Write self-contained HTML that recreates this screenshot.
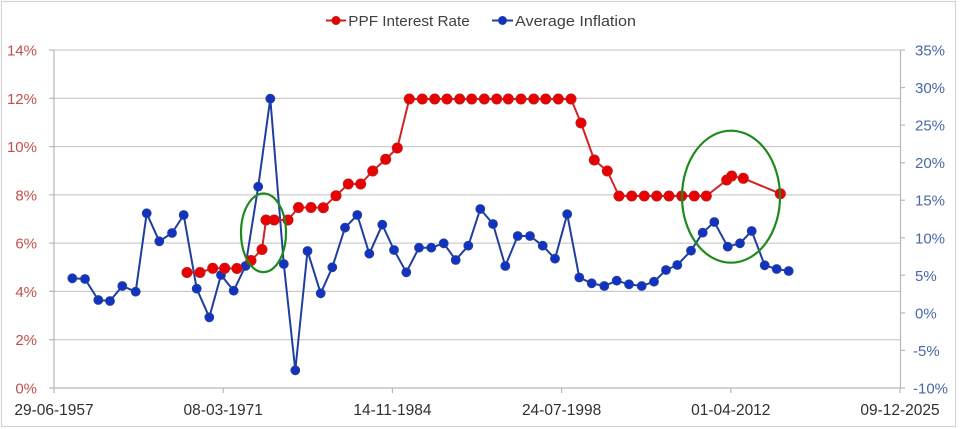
<!DOCTYPE html>
<html>
<head>
<meta charset="utf-8">
<style>
  html, body { margin: 0; padding: 0; background: #ffffff; }
  body { width: 960px; height: 429px; overflow: hidden; }
  svg { display: block; }
  text { font-family: "Liberation Sans", "DejaVu Sans", sans-serif; }
</style>
</head>
<body>
<svg width="960" height="429" viewBox="0 0 960 429" xmlns="http://www.w3.org/2000/svg">
  <rect x="0" y="0" width="960" height="429" fill="#ffffff"/>
  <!-- outer frame -->
  <rect x="1.5" y="1.5" width="954" height="425" fill="none" stroke="#d4d4d4" stroke-width="1.2"/>

  <!-- gridlines (left axis, every 2%) -->
  <g stroke="#c0c0c0" stroke-width="1">
    <line x1="54" y1="50" x2="900" y2="50"/>
    <line x1="54" y1="98.3" x2="900" y2="98.3"/>
    <line x1="54" y1="146.6" x2="900" y2="146.6"/>
    <line x1="54" y1="194.9" x2="900" y2="194.9"/>
    <line x1="54" y1="243.1" x2="900" y2="243.1"/>
    <line x1="54" y1="291.4" x2="900" y2="291.4"/>
    <line x1="54" y1="339.7" x2="900" y2="339.7"/>
  </g>

  <!-- axes -->
  <g stroke="#b8b8b8" stroke-width="1.2" fill="none">
    <line x1="54" y1="50" x2="54" y2="388"/>
    <line x1="54" y1="388" x2="900.5" y2="388"/>
    <line x1="900.5" y1="50" x2="900.5" y2="388"/>
    <!-- left ticks -->
    <line x1="49" y1="50" x2="54" y2="50"/>
    <line x1="49" y1="98.3" x2="54" y2="98.3"/>
    <line x1="49" y1="146.6" x2="54" y2="146.6"/>
    <line x1="49" y1="194.9" x2="54" y2="194.9"/>
    <line x1="49" y1="243.1" x2="54" y2="243.1"/>
    <line x1="49" y1="291.4" x2="54" y2="291.4"/>
    <line x1="49" y1="339.7" x2="54" y2="339.7"/>
    <line x1="49" y1="388" x2="54" y2="388"/>
    <!-- bottom ticks -->
    <line x1="54" y1="388" x2="54" y2="393"/>
    <line x1="223.2" y1="388" x2="223.2" y2="393"/>
    <line x1="392.4" y1="388" x2="392.4" y2="393"/>
    <line x1="561.6" y1="388" x2="561.6" y2="393"/>
    <line x1="730.8" y1="388" x2="730.8" y2="393"/>
    <line x1="900" y1="388" x2="900" y2="393"/>
    <!-- right ticks -->
    <line x1="900.5" y1="50" x2="905" y2="50"/>
    <line x1="900.5" y1="87.6" x2="905" y2="87.6"/>
    <line x1="900.5" y1="125.1" x2="905" y2="125.1"/>
    <line x1="900.5" y1="162.7" x2="905" y2="162.7"/>
    <line x1="900.5" y1="200.2" x2="905" y2="200.2"/>
    <line x1="900.5" y1="237.8" x2="905" y2="237.8"/>
    <line x1="900.5" y1="275.3" x2="905" y2="275.3"/>
    <line x1="900.5" y1="312.9" x2="905" y2="312.9"/>
    <line x1="900.5" y1="350.4" x2="905" y2="350.4"/>
    <line x1="900.5" y1="388" x2="905" y2="388"/>
  </g>

  <!-- left axis labels -->
  <g fill="#c0504d" font-size="15" text-anchor="end">
    <text x="37" y="55.5">14%</text>
    <text x="37" y="103.8">12%</text>
    <text x="37" y="152.1">10%</text>
    <text x="37" y="200.4">8%</text>
    <text x="37" y="248.6">6%</text>
    <text x="37" y="296.9">4%</text>
    <text x="37" y="345.2">2%</text>
    <text x="37" y="393.5">0%</text>
  </g>

  <!-- right axis labels -->
  <g fill="#4a68a6" font-size="15" text-anchor="start">
    <text x="915" y="55.5">35%</text>
    <text x="915" y="93.1">30%</text>
    <text x="915" y="130.6">25%</text>
    <text x="915" y="168.2">20%</text>
    <text x="915" y="205.7">15%</text>
    <text x="915" y="243.3">10%</text>
    <text x="915" y="280.8">5%</text>
    <text x="915" y="318.4">0%</text>
    <text x="913" y="355.9">-5%</text>
    <text x="913" y="393.5">-10%</text>
  </g>

  <!-- x axis labels -->
  <g fill="#303030" font-size="15.5" text-anchor="middle">
    <text x="54" y="415">29-06-1957</text>
    <text x="223.2" y="415">08-03-1971</text>
    <text x="392.4" y="415">14-11-1984</text>
    <text x="561.6" y="415">24-07-1998</text>
    <text x="730.8" y="415">01-04-2012</text>
    <text x="900" y="415">09-12-2025</text>
  </g>

  <!-- legend -->
  <g>
    <line x1="326" y1="20.5" x2="346" y2="20.5" stroke="#d02020" stroke-width="2"/>
    <circle cx="336" cy="20.5" r="4" fill="#e80000" stroke="#c01010" stroke-width="1"/>
    <text x="348.3" y="26" font-size="15" fill="#404040" textLength="121.5" lengthAdjust="spacingAndGlyphs">PPF Interest Rate</text>
    <line x1="492" y1="20.5" x2="513" y2="20.5" stroke="#2040a0" stroke-width="2"/>
    <circle cx="502.5" cy="20.5" r="4" fill="#1030c0" stroke="#2040a0" stroke-width="1"/>
    <text x="515" y="26" font-size="15" fill="#404040" textLength="121" lengthAdjust="spacingAndGlyphs">Average Inflation</text>
  </g>

  <!-- Average Inflation (blue) -->
  <polyline fill="none" stroke="#1f3f9f" stroke-width="2" stroke-linejoin="round"
    points="72.3,278.3 85,279 98.3,300 110,301 122.3,286 135.7,291.7 146.7,213.3 159.3,241.3 172,233 183.7,215 196.7,288.7 209.3,317.3 221,275 233.7,290.7 245.5,266 258.2,186.7 270.3,98.7 283.8,264 295.3,370.3 307.5,251 320.7,293.3 332.3,267.3 345,227.7 357.3,215 369.3,253.7 382.3,224.7 394,250 406.3,272.3 419,247.7 431.3,247.7 443.7,243.3 455.7,260 468.3,245.7 480.3,209 493,224 505.3,266 517.7,236 530,236 542.7,245.7 555,258.7 567.2,214.2 579.3,277.5 591.7,283.3 604.3,286 616.7,280.7 629,284.3 641.7,286 654,281.7 666,270 677.3,265 691,250.7 702.7,232.7 714.3,222 727.7,246.7 740,243.3 751.7,231 764.7,265.3 776.7,269 788.7,271"/>

  <!-- PPF Interest Rate (red) line -->
  <polyline fill="none" stroke="#d02424" stroke-width="2" stroke-linejoin="round"
    points="187,272.5 200,272.5 212.7,268.3 224.7,268.3 236.9,268.5 251,260.5 262,249.5 266,220 274.2,220 288,220 298.5,207.5 311,207.5 323.3,207.7 336,195.7 348.3,184 360.7,184 372.7,171 385.7,159.3 397.3,148 409.3,99 422.3,99 434.7,99 447,99 459.7,99 471.7,99 484.3,99 496.7,99 508.3,99 521,99 533.7,99 545.7,99 558.3,99 571,99 581,123 594.3,160 607.3,171 619,196 631.7,196 644.3,196 656.7,196 669,196 681.7,196 694.3,196 706.3,196 726.7,180 731.7,176 743.3,178.3 780.3,193.7"/>

  <!-- blue markers -->
  <g fill="#1232c2" stroke="#23409e" stroke-width="1">
    <circle cx="72.3" cy="278.3" r="4.4"/><circle cx="85" cy="279" r="4.4"/><circle cx="98.3" cy="300" r="4.4"/><circle cx="110" cy="301" r="4.4"/><circle cx="122.3" cy="286" r="4.4"/><circle cx="135.7" cy="291.7" r="4.4"/><circle cx="146.7" cy="213.3" r="4.4"/><circle cx="159.3" cy="241.3" r="4.4"/><circle cx="172" cy="233" r="4.4"/><circle cx="183.7" cy="215" r="4.4"/><circle cx="196.7" cy="288.7" r="4.4"/><circle cx="209.3" cy="317.3" r="4.4"/><circle cx="221" cy="275" r="4.4"/><circle cx="233.7" cy="290.7" r="4.4"/><circle cx="245.5" cy="266" r="4.4"/><circle cx="258.2" cy="186.7" r="4.4"/><circle cx="270.3" cy="98.7" r="4.4"/><circle cx="283.8" cy="264" r="4.4"/><circle cx="295.3" cy="370.3" r="4.4"/><circle cx="307.5" cy="251" r="4.4"/><circle cx="320.7" cy="293.3" r="4.4"/><circle cx="332.3" cy="267.3" r="4.4"/><circle cx="345" cy="227.7" r="4.4"/><circle cx="357.3" cy="215" r="4.4"/><circle cx="369.3" cy="253.7" r="4.4"/><circle cx="382.3" cy="224.7" r="4.4"/><circle cx="394" cy="250" r="4.4"/><circle cx="406.3" cy="272.3" r="4.4"/><circle cx="419" cy="247.7" r="4.4"/><circle cx="431.3" cy="247.7" r="4.4"/><circle cx="443.7" cy="243.3" r="4.4"/><circle cx="455.7" cy="260" r="4.4"/><circle cx="468.3" cy="245.7" r="4.4"/><circle cx="480.3" cy="209" r="4.4"/><circle cx="493" cy="224" r="4.4"/><circle cx="505.3" cy="266" r="4.4"/><circle cx="517.7" cy="236" r="4.4"/><circle cx="530" cy="236" r="4.4"/><circle cx="542.7" cy="245.7" r="4.4"/><circle cx="555" cy="258.7" r="4.4"/><circle cx="567.2" cy="214.2" r="4.4"/><circle cx="579.3" cy="277.5" r="4.4"/><circle cx="591.7" cy="283.3" r="4.4"/><circle cx="604.3" cy="286" r="4.4"/><circle cx="616.7" cy="280.7" r="4.4"/><circle cx="629" cy="284.3" r="4.4"/><circle cx="641.7" cy="286" r="4.4"/><circle cx="654" cy="281.7" r="4.4"/><circle cx="666" cy="270" r="4.4"/><circle cx="677.3" cy="265" r="4.4"/><circle cx="691" cy="250.7" r="4.4"/><circle cx="702.7" cy="232.7" r="4.4"/><circle cx="714.3" cy="222" r="4.4"/><circle cx="727.7" cy="246.7" r="4.4"/><circle cx="740" cy="243.3" r="4.4"/><circle cx="751.7" cy="231" r="4.4"/><circle cx="764.7" cy="265.3" r="4.4"/><circle cx="776.7" cy="269" r="4.4"/><circle cx="788.7" cy="271" r="4.4"/>
  </g>

  <!-- red markers -->
  <g fill="#ea0000" stroke="#c81818" stroke-width="1">
    <circle cx="187" cy="272.5" r="5"/><circle cx="200" cy="272.5" r="5"/><circle cx="212.7" cy="268.3" r="5"/><circle cx="224.7" cy="268.3" r="5"/><circle cx="236.9" cy="268.5" r="5"/><circle cx="251" cy="260.5" r="5"/><circle cx="262" cy="249.5" r="5"/><circle cx="266" cy="220" r="5"/><circle cx="274.2" cy="220" r="5"/><circle cx="288" cy="220" r="5"/><circle cx="298.5" cy="207.5" r="5"/><circle cx="311" cy="207.5" r="5"/><circle cx="323.3" cy="207.7" r="5"/><circle cx="336" cy="195.7" r="5"/><circle cx="348.3" cy="184" r="5"/><circle cx="360.7" cy="184" r="5"/><circle cx="372.7" cy="171" r="5"/><circle cx="385.7" cy="159.3" r="5"/><circle cx="397.3" cy="148" r="5"/><circle cx="409.3" cy="99" r="5"/><circle cx="422.3" cy="99" r="5"/><circle cx="434.7" cy="99" r="5"/><circle cx="447" cy="99" r="5"/><circle cx="459.7" cy="99" r="5"/><circle cx="471.7" cy="99" r="5"/><circle cx="484.3" cy="99" r="5"/><circle cx="496.7" cy="99" r="5"/><circle cx="508.3" cy="99" r="5"/><circle cx="521" cy="99" r="5"/><circle cx="533.7" cy="99" r="5"/><circle cx="545.7" cy="99" r="5"/><circle cx="558.3" cy="99" r="5"/><circle cx="571" cy="99" r="5"/><circle cx="581" cy="123" r="5"/><circle cx="594.3" cy="160" r="5"/><circle cx="607.3" cy="171" r="5"/><circle cx="619" cy="196" r="5"/><circle cx="631.7" cy="196" r="5"/><circle cx="644.3" cy="196" r="5"/><circle cx="656.7" cy="196" r="5"/><circle cx="669" cy="196" r="5"/><circle cx="681.7" cy="196" r="5"/><circle cx="694.3" cy="196" r="5"/><circle cx="706.3" cy="196" r="5"/><circle cx="726.7" cy="180" r="5"/><circle cx="731.7" cy="176" r="5"/><circle cx="743.3" cy="178.3" r="5"/><circle cx="780.3" cy="193.7" r="5"/>
  </g>

  <!-- green highlight ellipses -->
  <ellipse cx="263.5" cy="232.8" rx="22.5" ry="39.3" fill="none" stroke="#1e8a1e" stroke-width="2.2"/>
  <ellipse cx="731" cy="196.7" rx="49" ry="66" fill="none" stroke="#1e8a1e" stroke-width="2.2"/>
</svg>
</body>
</html>
